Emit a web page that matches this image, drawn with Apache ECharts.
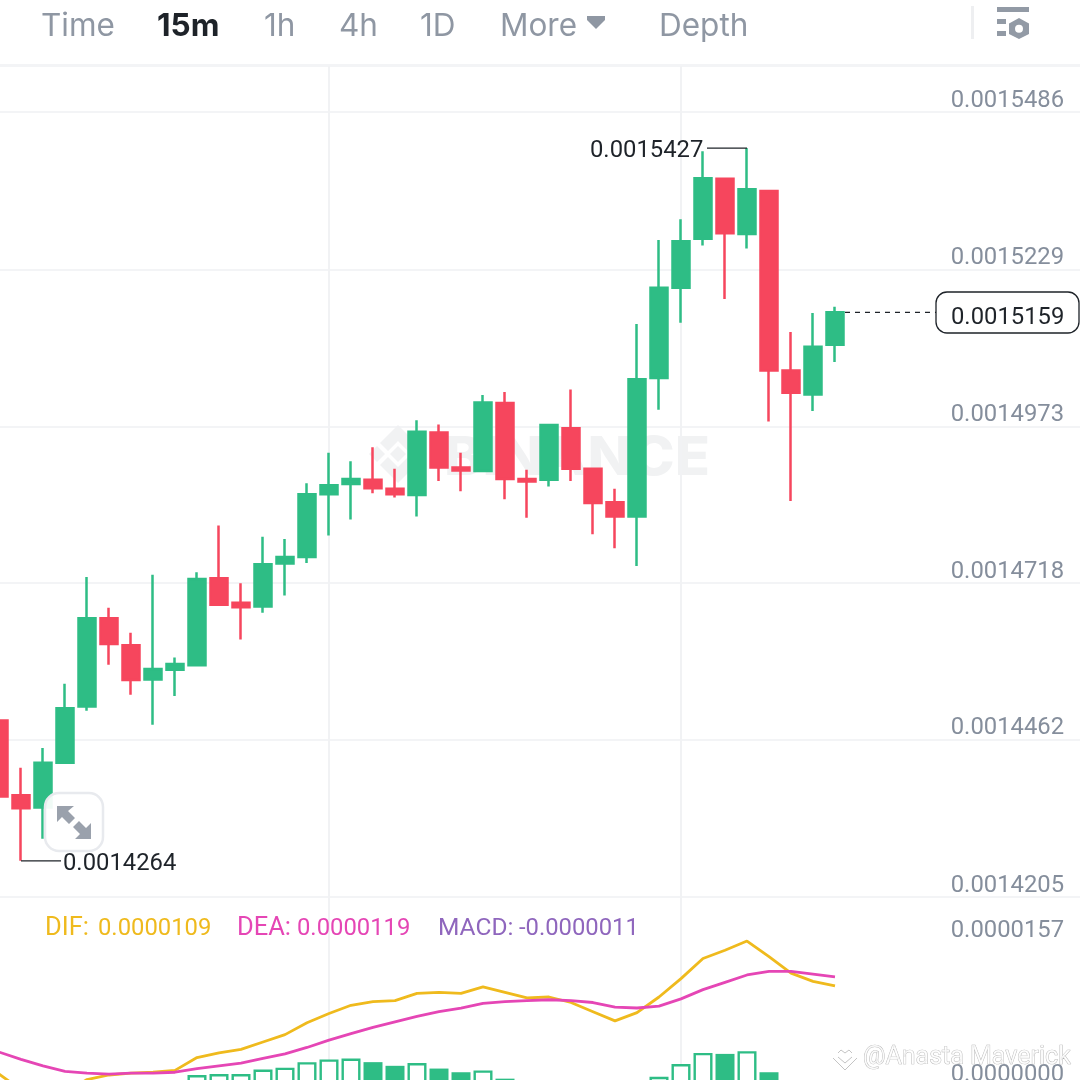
<!DOCTYPE html>
<html>
<head>
<meta charset="utf-8">
<style>html,body{margin:0;padding:0;background:#fff}#c{width:1080px;height:1080px}</style>
<script src="https://cdn.jsdelivr.net/npm/echarts@6/dist/echarts.min.js"></script>
</head>
<body>
<div id="c"></div>
<script>
// ---------- data ----------
const opens = [0.0014493,0.0014371,0.0014351,0.0014424,0.0014516,0.0014660,0.0014616,0.0014560,0.0014576,0.0014583,0.0014725,0.0014685,0.0014679,0.0014749,0.0014760,0.0014862,0.0014879,0.0014886,0.0014871,0.0014861,0.0014963,0.0014906,0.0014900,0.0015011,0.0014887,0.0014886,0.0014970,0.0014904,0.0014849,0.0014826,0.0015052,0.0015199,0.0015279,0.0015377,0.0015287,0.0015357,0.0015064,0.0015025,0.0015106];
const closes = [0.0014369,0.0014350,0.0014424,0.0014513,0.0014660,0.0014618,0.0014559,0.0014577,0.0014585,0.0014724,0.0014682,0.0014678,0.0014748,0.0014760,0.0014862,0.0014877,0.0014887,0.0014872,0.0014862,0.0014964,0.0014906,0.0014901,0.0015012,0.0014887,0.0014883,0.0014975,0.0014904,0.0014848,0.0014826,0.0015050,0.0015199,0.0015275,0.0015378,0.0015288,0.0015360,0.0015064,0.0015028,0.0015103,0.0015159];
const lows = [0.0014344,0.0014264,0.0014300,0.0014422,0.0014509,0.0014584,0.0014535,0.0014486,0.0014533,0.0014583,0.0014680,0.0014625,0.0014669,0.0014697,0.0014750,0.0014795,0.0014821,0.0014864,0.0014857,0.0014826,0.0014884,0.0014867,0.0014900,0.0014854,0.0014824,0.0014875,0.0014884,0.0014797,0.0014774,0.0014745,0.0015000,0.0015142,0.0015268,0.0015181,0.0015263,0.0014981,0.0014851,0.0014998,0.0015078];
const highs = [0.0014518,0.0014416,0.0014448,0.0014553,0.0014727,0.0014677,0.0014636,0.0014731,0.0014596,0.0014735,0.0014811,0.0014717,0.0014793,0.0014789,0.0014880,0.0014930,0.0014916,0.0014939,0.0014904,0.0014983,0.0014976,0.0014930,0.0015024,0.0015029,0.0014902,0.0014975,0.0015033,0.0014906,0.0014871,0.0015140,0.0015277,0.0015311,0.0015422,0.0015377,0.0015427,0.0015357,0.0015127,0.0015158,0.0015168];
const difValues = [0.0000013,-0.0000004,-0.0000013,-0.0000007,0.0000007,0.0000012,0.0000014,0.0000015,0.0000017,0.0000031,0.0000036,0.0000040,0.0000048,0.0000056,0.0000069,0.0000079,0.0000088,0.0000092,0.0000093,0.0000101,0.0000102,0.0000101,0.0000108,0.0000102,0.0000096,0.0000097,0.0000091,0.0000081,0.0000071,0.0000080,0.0000097,0.0000117,0.0000139,0.0000148,0.0000158,0.0000141,0.0000123,0.0000114,0.0000109];
const deaValues = [0.0000037,0.0000029,0.0000022,0.0000016,0.0000014,0.0000013,0.0000014,0.0000014,0.0000015,0.0000019,0.0000022,0.0000025,0.0000030,0.0000035,0.0000042,0.0000050,0.0000057,0.0000064,0.0000070,0.0000076,0.0000081,0.0000085,0.0000090,0.0000092,0.0000093,0.0000094,0.0000093,0.0000091,0.0000086,0.0000085,0.0000087,0.0000095,0.0000105,0.0000113,0.0000121,0.0000125,0.0000125,0.0000122,0.0000119];
const macdValues = [-0.0000024,-0.0000033,-0.0000035,-0.0000023,-0.0000007,-0.0000001,0,0.0000001,0.0000002,0.0000012,0.0000013,0.0000013,0.0000018,0.0000020,0.0000026,0.0000029,0.0000030,0.0000026,0.0000022,0.0000025,0.0000019,0.0000015,0.0000017,0.0000008,0.0000003,0.0000003,-0.0000002,-0.0000010,-0.0000015,-0.0000005,0.0000010,0.0000024,0.0000036,0.0000035,0.0000038,0.0000015,-0.0000002,-0.0000008,-0.0000011];
const macdHollow = [0,0,0,0,0,0,0,0,0,1,1,1,1,1,1,1,1,0,0,1,0,0,1,0,0,0,0,0,0,0,1,1,1,0,1,0,0,0,0];
const priceTicks = [0.0015486,0.0015229,0.0014973,0.0014718,0.0014462,0.0014205];
const macdTicks = [0.0000157,0];
const tabs = ['Time','15m','1h','4h','1D','More','Depth'];
const legendNames = ['DIF:','DEA:','MACD:'];
const legendValues = ['0.0000109','0.0000119','-0.0000011'];
const priceMax = 0.0015561, macdMax = 0.0000206;
const slotCount = 50;
const hiIndex = 34, loIndex = 1, lastIndex = 38;

// ---------- style ----------
const UP='#2ebd85', DOWN='#f6465d', INK='#1e2329', GREY='#858e9c', GRID='#eff1f3';
const FONT='Roboto', FS=23.8;
const slots = Array.from({length:slotCount},(_,i)=>String(i));
const candles = opens.map((o,i)=>[o,closes[i],lows[i],highs[i]]);
const hist = macdValues.map((v,i)=>{
  const c = v>=0?UP:DOWN;
  return {value:v,itemStyle: macdHollow[i]?{color:'#fff',borderColor:c,borderWidth:2.4}:{color:c}};
});
const fmt = v=>Number(v).toFixed(7);

const chart = echarts.init(document.getElementById('c'),null,{renderer:'canvas'});
const catAxis = g=>({type:'category',gridIndex:g,data:slots,boundaryGap:true,axisLine:{show:false},axisTick:{show:false},axisLabel:{show:false},splitLine:{show:false}});
const valAxis = (g,min,max,ticks,split)=>({type:'value',gridIndex:g,position:'right',min,max,
  axisLine:{show:false},
  axisTick:{show:false,customValues:ticks},
  splitLine:{show:split,lineStyle:{color:GRID,width:1.6}},
  axisLabel:{inside:true,margin:24,customValues:ticks,formatter:fmt,color:GREY,fontFamily:FONT,fontSize:FS,verticalAlign:'bottom',lineHeight:22,showMinLabel:true,showMaxLabel:true,hideOverlap:false}});

chart.setOption({
  animation:false,
  backgroundColor:'#fff',
  grid:[
    {left:-12,right:-8,top:66,bottom:183,outerBoundsMode:'none'},
    {left:-12,right:-8,top:897,bottom:-6,outerBoundsMode:'none'},
    {left:-12,right:-8,top:66,bottom:0,outerBoundsMode:'none'}
  ],
  xAxis:[catAxis(0),catAxis(1),
    {type:'value',gridIndex:2,min:-0.5,max:slotCount-0.5,axisLine:{show:false},axisLabel:{show:false},
     axisTick:{show:false,customValues:[15,31]},splitLine:{show:true,lineStyle:{color:'#f1f2f4',width:2}}}],
  yAxis:[valAxis(0,priceTicks[5],priceMax,priceTicks,true),valAxis(1,0,macdMax,macdTicks,false),
    {type:'value',gridIndex:2,min:0,max:1,show:false,splitLine:{show:false}}],
  series:[
    {type:'candlestick',name:'Price',xAxisIndex:0,yAxisIndex:0,data:candles,barWidth:17.6,
     itemStyle:{color:UP,color0:DOWN,borderColor:UP,borderColor0:DOWN,borderWidth:2.5}},
    {type:'bar',name:'MACD',xAxisIndex:1,yAxisIndex:1,data:hist,barWidth:19,z:1},
    {type:'line',name:'DIF',xAxisIndex:1,yAxisIndex:1,data:difValues,symbol:'none',z:3,lineStyle:{color:'#efba1d',width:2.8}},
    {type:'line',name:'DEA',xAxisIndex:1,yAxisIndex:1,data:deaValues,symbol:'none',z:4,lineStyle:{color:'#e546b5',width:2.8}}
  ]
});

// ---------- annotations placed through the chart's own scale ----------
const hiP = chart.convertToPixel({gridIndex:0},[hiIndex,highs[hiIndex]]);
const loP = chart.convertToPixel({gridIndex:0},[loIndex,lows[loIndex]]);
const lastP = chart.convertToPixel({gridIndex:0},[lastIndex,closes[lastIndex]]);
const text = (t,x,y,o={})=>({type:'text',z:o.z||30,silent:true,style:Object.assign({text:t,x,y,fill:INK,fontFamily:FONT,fontSize:FS,align:'left',verticalAlign:'middle'},o.style||{})});
const line = (x1,y1,x2,y2,stroke,w,extra={})=>({type:'line',z:extra.z||29,silent:true,shape:{x1,y1,x2,y2},style:Object.assign({stroke,lineWidth:w},extra.style||{})});
const poly = (pts,fill,z)=>({type:'polygon',z:z||30,silent:true,shape:{points:pts},style:{fill}});
const rect = (x,y,w,h,fill,z,r)=>({type:'rect',z:z||30,silent:true,shape:{x,y,width:w,height:h,r:r||0},style:{fill}});

const tabPos=[41,157,264,339,420,500,659];
const tabEls = tabs.map((t,i)=>text(t,tabPos[i],27,{style:{fontFamily:'Inter',fontSize:31.5,fill:i===1?INK:'#8f97a3',fontWeight:i===1?700:400}}));

const wmG='#f1f2f3';
const wmLogo=(cx,cy,s)=>[
  [[0,-29],[18,-11],[10,-3],[0,-13],[-10,-3],[-18,-11]],
  [[0,29],[18,11],[10,3],[0,13],[-10,3],[-18,11]],
  [[-29,0],[-21,-8],[-13,0],[-21,8]],
  [[29,0],[21,-8],[13,0],[21,8]],
  [[0,-8],[8,0],[0,8],[-8,0]]
].map(p=>poly(p.map(q=>[cx+q[0]*s,cy+q[1]*s]),wmG,-5));

chart.setOption({graphic:{elements:[
  // watermark
  ...wmLogo(398,454,1),
  {type:'text',z:-5,silent:true,originX:444,originY:459,scaleX:1.09,style:{text:'BINANCE',x:444,y:459,fill:wmG,fontFamily:'Inter',fontWeight:800,fontSize:53,align:'left',verticalAlign:'middle'}},
  // header
  rect(0,64,1080,3,'#f3f4f6',-4),
  ...tabEls,
  poly([[587,16],[605,16],[605,20],[596,29],[587,20]],'#8f97a3'),
  rect(971,6,3,33,'#eeeff1'),
  rect(997,7,32,5,'#929aa5'),rect(997,19,9,5,'#929aa5'),rect(997,31,9,5,'#929aa5'),
  poly([[1019,18],[1029,23.5],[1029,34],[1019,39],[1009,34],[1009,23.5]],'#929aa5'),
  {type:'circle',z:31,silent:true,shape:{cx:1019,cy:28.7,r:4},style:{fill:'#fff'}},
  // high / low labels
  line(707,hiP[1],hiP[0],hiP[1],INK,1.2),
  text(fmt(highs[hiIndex]),590,hiP[1]+3),
  line(loP[0],loP[1],61,loP[1],INK,1.2),
  text(fmt(lows[loIndex]),63,loP[1]+3),
  // last price
  line(lastP[0]+10,lastP[1],936,lastP[1],INK,1.1,{style:{lineDash:[5,5]}}),
  {type:'rect',z:29,silent:true,shape:{x:936,y:292,width:143,height:41,r:11},style:{fill:'#fff',stroke:INK,lineWidth:1.3}},
  text(fmt(closes[lastIndex]),951,318),
  // expand button
  {type:'rect',z:28,silent:true,shape:{x:45,y:793,width:58,height:58,r:14},style:{fill:'rgba(255,255,255,0.93)',stroke:'#e8eaee',lineWidth:2.5}},
  poly([[57,806],[74,806],[68,811],[75,818],[69,824],[62,817],[57,822]],'#9aa1ac'),
  poly([[91,839],[75,839],[80,834],[73,827],[79,821],[86,828],[91,823]],'#9aa1ac'),
  // MACD legend
  text(legendNames[0],45,929,{style:{fill:'#efba1d',fontSize:25.5}}),
  text(legendValues[0],98,929,{style:{fill:'#efba1d'}}),
  text(legendNames[1],237,929,{style:{fill:'#e546b5',fontSize:25.5}}),
  text(legendValues[1],297,929,{style:{fill:'#e546b5'}}),
  text(legendNames[2],438,929,{style:{fill:'#8f66bd',fontSize:24.5}}),
  text(legendValues[2],519,929,{style:{fill:'#8f66bd'}}),
  // author mark
  {type:'polyline',z:40,silent:true,shape:{points:[[833,1058],[845,1070],[857,1058]]},style:{fill:'none',stroke:'#c4c4c4',lineWidth:1}},
  {type:'polyline',z:40,silent:true,shape:{points:[[838,1057],[845,1063],[852,1057]]},style:{fill:'none',stroke:'#c4c4c4',lineWidth:1}},
  {type:'polyline',z:40,silent:true,shape:{points:[[838,1053],[841,1050],[845,1053],[849,1050],[852,1053]]},style:{fill:'none',stroke:'#c4c4c4',lineWidth:1}},
  {type:'text',z:40,silent:true,style:{text:'@Anasta Maverick',x:863,y:1058,fill:'rgba(255,255,255,0.75)',stroke:'#b0b0b0',lineWidth:0.7,fontFamily:FONT,fontSize:25,align:'left',verticalAlign:'middle'}}
]}});
</script>
</body>
</html>
